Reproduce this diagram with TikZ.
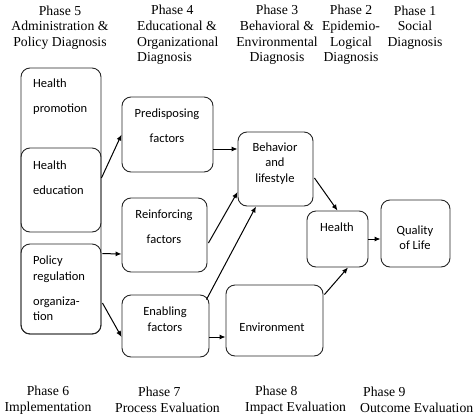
\documentclass[tikz,border=0pt]{standalone}
\usepackage{fontspec}
\setmainfont{Liberation Serif}
\newfontfamily\boxfont{Carlito}
\usetikzlibrary{arrows.meta,calc}
\tikzset{
box/.style={draw=black!85,line width=0.9pt,rounded corners=9pt,inner sep=0pt},
lbl/.style={font=\fontsize{13.7}{15.6}\selectfont,inner sep=0pt},
txt/.style={font=\boxfont\fontsize{12.5}{15.5}\selectfont,inner sep=0pt,align=center},
arr/.style={-{Latex[length=6pt,width=5pt]},line width=1pt}
}
\newcommand \mybox[5]
{
\node[box,minimum width=(#4-#2)*1pt,minimum height=(#5-#3)*1pt] (#1) at ({(#2+#4)/2},{(#3+#5)/2}) {};
}

\begin{document}
\begin{tikzpicture}[x=1pt,y=-1pt,line join=round]
\useasboundingbox (0,0) rectangle (474,418);
% phases, top row
\node[lbl,align=center]                 (P5) at (60,27.5) {Phase 5\\Administration \&\\Policy Diagnosis};
\node[lbl,align=left,anchor=west]       (P4) at (137,35)  {\hspace{14pt}Phase 4\\Educational \&\\Organizational\\Diagnosis};
\node[lbl,align=center]                 (P3) at (277,35)  {Phase 3\\Behavioral \&\\Environmental\\Diagnosis};
\node[lbl,align=center]                 (P2) at (351,35)  {Phase 2\\Epidemio-\\Logical\\Diagnosis};
\node[lbl,align=center]                 (P1) at (415,27.5){Phase 1\\Social\\Diagnosis};
% phases, bottom row
\node[lbl,align=center]                 (P6) at (48,400)  {Phase 6\\Implementation};
\node[lbl,align=left,anchor=west]       (P7) at (115,400) {\hspace{23pt}Phase 7\\Process Evaluation};
\node[lbl,align=left,anchor=west]       (P8) at (245,400) {\hspace{10pt}Phase 8\\Impact Evaluation};
\node[lbl,align=left,anchor=west]       (P9) at (360,400) {\hspace{3pt}Phase 9\\Outcome Evaluation};
% boxes
\mybox{pro}{21}{68}{101}{334}
\mybox{edu}{21}{148}{101}{232}
\mybox{pol}{21}{244}{101}{334}
\mybox{pre}{122}{97}{213}{172}
\mybox{rei}{122}{198}{207}{272}
\mybox{ena}{122}{295}{209}{357}
\mybox{beh}{238}{132}{313}{206}
\mybox{env}{226}{285}{323}{356}
\mybox{hea}{307}{211}{368}{267}
\mybox{qol}{381}{200}{450}{267}
% box texts
\node[txt,align=left,anchor=west] (tpro) at (33,96.5)  {Health\\[9.5pt]promotion};
\node[txt,align=left,anchor=west] (tedu) at (33,177.5) {Health\\[9.5pt]education};
\node[txt,align=left,anchor=west] (tpol) at (33,288.5) {Policy\\regulation\\[9.5pt]organiza-\\tion};
\node[txt] (tpre) at (167,125.5) {Predisposing\\[9.5pt]factors};
\node[txt] (trei) at (164,226.5) {Reinforcing\\[9.5pt]factors};
\node[txt] (tena) at (165,319)   {Enabling\\factors};
\node[txt] (tbeh) at (275,163.5) {Behavior\\and\\lifestyle};
\node[txt] (tenv) at (272,327)   {Environment};
\node[txt] (thea) at (337,227)   {Health};
\node[txt] (tqol) at (415,237.5) {Quality\\of Life};
% arrows
\draw[arr] ($(edu.east)+(0,-12)$) -- (pre.west);
\draw[arr] ($(pol.north east)+(1,10)$) -- ($(rei.west)+(0,19)$);
\draw[arr] ($(pol.east)+(1,14)$) -- ($(ena.west)+(0,11)$);
\draw[arr] ($(pre.east)+(0,14.5)$) -- ($(beh.west)+(0,-20)$);
\draw[arr] ($(rei.east)+(1,8)$) -- ($(beh.west)+(0,23)$);
\draw[arr] ($(ena.north east)+(-3,5)$) -- ($(beh.south)+(-19.5,0)$);
\draw[arr] ($(ena.east)+(0,11)$) -- ($(env.west)+(0,16.5)$);
\draw[arr] ($(beh.east)+(1,9)$) -- (hea.north);
\draw[arr] ($(env.north east)+(1,10)$) -- ($(hea.south)+(10.5,0)$);
\draw[arr] (hea.east) -- (hea.east -| qol.west);
\end{tikzpicture}
\end{document}
